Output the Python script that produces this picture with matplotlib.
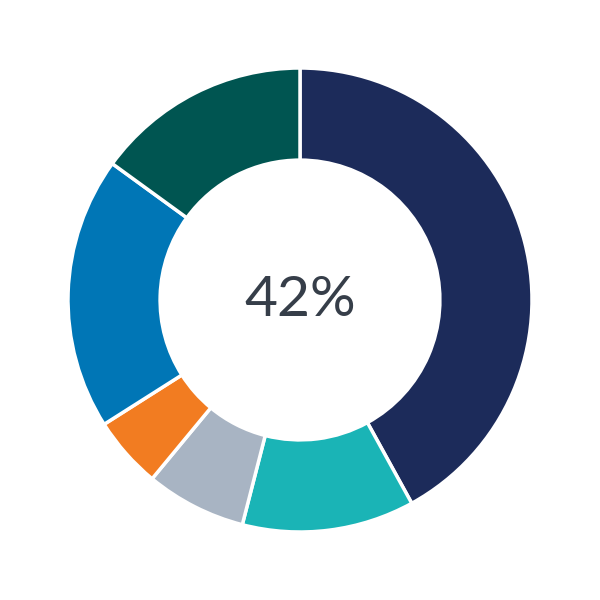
import matplotlib
matplotlib.use("Agg")
import matplotlib.pyplot as plt

# segment shares, clockwise from the top
labels = ["A", "B", "C", "D", "E", "F"]
shares = [42, 12, 7, 5, 19, 15]
colors = ["#1c2b5a", "#1ab4b6", "#a8b4c3", "#f27c21", "#0076b6", "#005551"]
center_text = "42%"

fig = plt.figure(figsize=(6, 6), dpi=100)
ax = fig.add_axes([0, 0, 1, 1])

# outer radius ~232px of 300px half width, inner ~140px
ax.pie(shares, colors=colors, startangle=90, counterclock=False,
       radius=1, wedgeprops=dict(width=0.397, edgecolor="white", linewidth=2.5))

ax.text(0, 0, center_text, ha="center", va="center", fontsize=41,
        family=["Lato", "DejaVu Sans"], color="#363e49")

lim = 300 / 232
ax.set_xlim(-lim, lim)
ax.set_ylim(-lim, lim)
ax.set_aspect("equal")
ax.axis("off")

fig.savefig("out.png", dpi=100, facecolor="white")
